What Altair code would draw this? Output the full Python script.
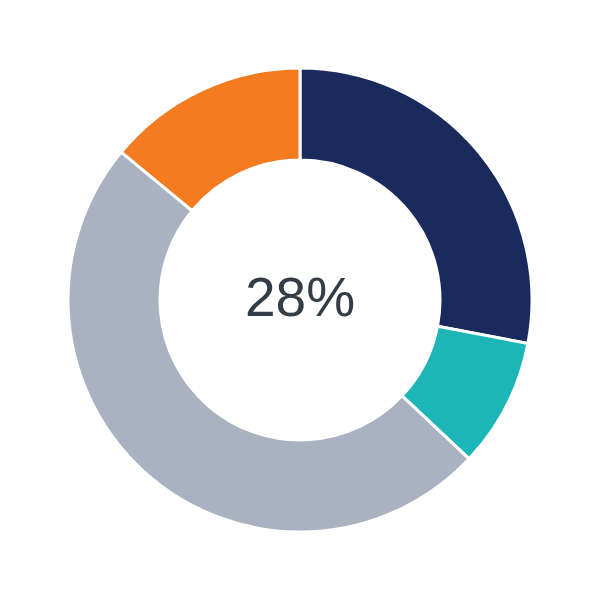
import altair as alt
import pandas as pd

categories = ["A", "B", "C", "D"]
values = [28, 9, 49, 14]
colors = ["#1b2a5c", "#1cb5b8", "#a8b2c0", "#f47b20"]
center_label = ["28%"]

df = pd.DataFrame({"cat": categories, "val": values, "ord": list(range(len(values)))})

donut = alt.Chart(df).mark_arc(
    innerRadius=140, outerRadius=232, stroke="white", strokeWidth=3
).encode(
    theta=alt.Theta("val:Q", stack=True),
    order=alt.Order("ord:Q"),
    color=alt.Color("cat:N", scale=alt.Scale(domain=categories, range=colors), legend=None),
)

text = alt.Chart(pd.DataFrame({"t": center_label})).mark_text(
    fontSize=55, font="Liberation Sans", color="#333d47", baseline="middle", align="center"
).encode(
    text="t:N",
    x=alt.value(292),
    y=alt.value(291),
)

chart = alt.layer(donut, text).properties(
    width=584, height=584, padding=0, autosize=alt.AutoSizeParams(type="none")
).configure_view(stroke=None)

chart.save("out.html", embed_options={"renderer": "svg", "actions": False})
